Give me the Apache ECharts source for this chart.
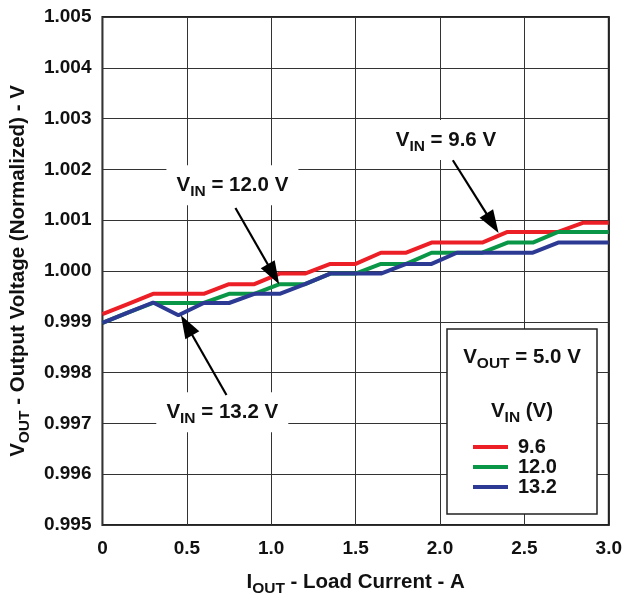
<!DOCTYPE html>
<html><head><meta charset="utf-8">
<script src="https://cdn.jsdelivr.net/npm/echarts@6/dist/echarts.min.js"></script>
<style>html,body{margin:0;padding:0;background:#fff}#c{width:625px;height:605px}</style>
</head><body><div id="c"></div>
<script>
// ---- data ----
const loadCurrent = [0, 0.15, 0.3, 0.45, 0.6, 0.75, 0.9, 1.05, 1.2, 1.35, 1.5, 1.65, 1.8, 1.95, 2.1, 2.25, 2.4, 2.55, 2.7, 2.85, 3.0];
const vin96  = [0.99915, 0.99935, 0.99955, 0.99955, 0.99955, 0.99974, 0.99974, 0.99995, 0.99995, 1.00014, 1.00014, 1.00036, 1.00036, 1.00056, 1.00056, 1.00056, 1.00077, 1.00077, 1.00077, 1.00095, 1.00095];
const vin120 = [0.99898, 0.99918, 0.99937, 0.99937, 0.99937, 0.99955, 0.99955, 0.99974, 0.99974, 0.99995, 0.99995, 1.00014, 1.00014, 1.00036, 1.00036, 1.00036, 1.00056, 1.00056, 1.00077, 1.00077, 1.00077];
const vin132 = [0.99898, 0.99918, 0.99938, 0.99913, 0.99937, 0.99937, 0.99955, 0.99955, 0.99974, 0.99995, 0.99995, 0.99995, 1.00014, 1.00014, 1.00036, 1.00036, 1.00036, 1.00036, 1.00056, 1.00056, 1.00056];
const seriesNames = ['9.6', '12.0', '13.2'];
const yTickLabels = ['0.995','0.996','0.997','0.998','0.999','1.000','1.001','1.002','1.003','1.004','1.005'];
const xTickLabels = ['0','0.5','1.0','1.5','2.0','2.5','3.0'];
// annotations: label value, label centre, arrow tail, arrow tip (data coordinates)
const annVin   = ['9.6', '12.0', '13.2'];
const annLabel = [[2.035, 1.00258], [0.77, 1.00169], [0.71, 0.99722]];
const annTail  = [[2.076, 1.00218], [0.788, 1.00124], [0.735, 0.99756]];
const annTip   = [[2.347, 1.00075], [1.047, 0.99974], [0.465, 0.99913]];

const colors = ['#ec1f26', '#0a9647', '#2c3a94'];
const FF = '"Liberation Sans", Arial, Helvetica, sans-serif';

const chart = echarts.init(document.getElementById('c'), null, {renderer: 'canvas'});
const zip = (xs, ys) => xs.map((x, i) => [x, ys[i]]);

const option = {
  animation: false,
  backgroundColor: '#fff',
  grid: {left: 99, top: 17, right: 16, bottom: 80, show: true, borderColor: '#222', borderWidth: 2, backgroundColor: 'transparent'},
  xAxis: {
    type: 'value', min: 0, max: 3, interval: 0.5,
    axisLine: {show: false}, axisTick: {show: false},
    splitLine: {show: true, lineStyle: {color: '#333', width: 1}},
    axisLabel: {margin: 14, fontSize: 19, fontWeight: 'bold', fontFamily: FF, color: '#111',
      formatter: v => xTickLabels[Math.round(v / 0.5)]},
    name: '{m|I}{s|OUT}{m| - Load Current - A}', nameLocation: 'middle', nameGap: 43,
    nameTextStyle: {rich: {
      m: {fontSize: 20.5, fontWeight: 'bold', fontFamily: FF, color: '#111'},
      s: {fontSize: 15.5, fontWeight: 'bold', fontFamily: FF, color: '#111', padding: [13, 0, 0, 0]}
    }}
  },
  yAxis: {
    type: 'value', min: 0.995, max: 1.005, interval: 0.001,
    axisLine: {show: false}, axisTick: {show: false},
    splitLine: {show: true, lineStyle: {color: '#333', width: 1}},
    axisLabel: {margin: 11, fontSize: 19, fontWeight: 'bold', fontFamily: FF, color: '#111',
      formatter: v => yTickLabels[Math.round((v - 0.995) / 0.001)]},
    name: '{m|V}{s|OUT}{m| - Output Voltage (Normalized) - V}', nameLocation: 'middle', nameGap: 64,
    nameTextStyle: {rich: {
      m: {fontSize: 20.5, fontWeight: 'bold', fontFamily: FF, color: '#111'},
      s: {fontSize: 15.5, fontWeight: 'bold', fontFamily: FF, color: '#111', padding: [13, 0, 0, 0]}
    }}
  },
  legend: {
    data: seriesNames, orient: 'vertical', left: 468, top: 432, itemWidth: 35, itemHeight: 4,
    itemGap: 0, icon: 'rect', selectedMode: false, z: 10,
    textStyle: {fontSize: 20, fontWeight: 'bold', fontFamily: FF, color: '#111', padding: [0, 0, 0, 5]}
  },
  series: [
    {name: seriesNames[0], type: 'line', data: zip(loadCurrent, vin96), color: colors[0], showSymbol: false, lineStyle: {width: 4}, z: 2},
    {name: seriesNames[1], type: 'line', data: zip(loadCurrent, vin120), color: colors[1], showSymbol: false, lineStyle: {width: 4}, z: 3},
    {name: seriesNames[2], type: 'line', data: zip(loadCurrent, vin132), color: colors[2], showSymbol: false, lineStyle: {width: 4}, z: 4}
  ]
};
chart.setOption(option);

const toPx = p => chart.convertToPixel({gridIndex: 0}, p);
const graphics = [];
const richSub = {
  m: {fontSize: 20.5, fontWeight: 'bold', fontFamily: FF, fill: '#111'},
  s: {fontSize: 15.5, fontWeight: 'bold', fontFamily: FF, fill: '#111', padding: [13, 0, 0, 0]}
};
annVin.forEach((v, i) => {
  const c = toPx(annLabel[i]);
  const w = 132, h = 40;
  graphics.push({type: 'rect', shape: {x: c[0] - w / 2, y: c[1] - h / 2, width: w, height: h}, style: {fill: '#fff'}, z: 5, silent: true});
  graphics.push({type: 'text', x: c[0], y: c[1], z: 6, silent: true,
    style: {text: '{m|V}{s|IN}{m| = ' + v + ' V}', rich: richSub, align: 'center', verticalAlign: 'middle'}});
  const t = toPx(annTail[i]), p = toPx(annTip[i]);
  const dx = p[0] - t[0], dy = p[1] - t[1], L = Math.hypot(dx, dy);
  const ux = dx / L, uy = dy / L, hl = 23, hw = 8;
  const bx = p[0] - ux * hl, by = p[1] - uy * hl;
  graphics.push({type: 'line', shape: {x1: t[0], y1: t[1], x2: bx + ux * 2, y2: by + uy * 2}, style: {stroke: '#000', lineWidth: 2.2}, z: 7, silent: true});
  graphics.push({type: 'polygon', shape: {points: [[p[0], p[1]], [bx - uy * hw, by + ux * hw], [bx + uy * hw, by - ux * hw]]}, style: {fill: '#000'}, z: 7, silent: true});
});
// legend box
graphics.push({type: 'rect', shape: {x: 447, y: 329, width: 150, height: 185}, style: {fill: '#fff', stroke: '#222', lineWidth: 1.5}, z: 5, silent: true});
graphics.push({type: 'text', x: 522, y: 357, z: 6, silent: true,
  style: {text: '{m|V}{s|OUT}{m| = 5.0 V}', rich: richSub, align: 'center', verticalAlign: 'middle'}});
graphics.push({type: 'text', x: 522, y: 411, z: 6, silent: true,
  style: {text: '{m|V}{s|IN}{m| (V)}', rich: richSub, align: 'center', verticalAlign: 'middle'}});
chart.setOption({graphic: graphics});
</script></body></html>
